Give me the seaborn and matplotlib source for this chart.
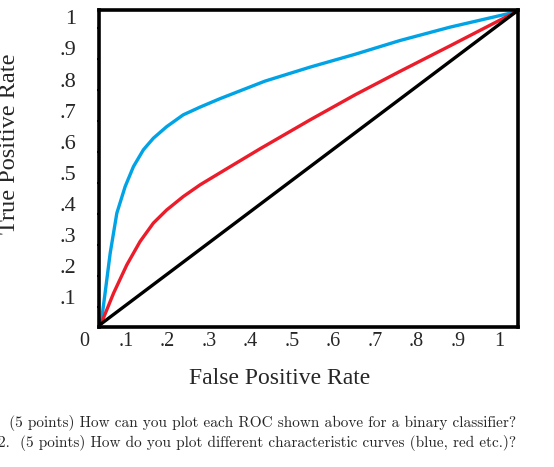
import matplotlib
matplotlib.use("Agg")
from matplotlib import pyplot as plt
import seaborn as sns
import pandas as pd

# ROC curves (false positive rate, true positive rate)
blue_fpr = [0, 0.0096, 0.022, 0.038, 0.058, 0.078, 0.102, 0.126, 0.158, 0.198,
            0.239, 0.287, 0.395, 0.504, 0.612, 0.72, 0.841, 1]
blue_tpr = [0, 0.098, 0.227, 0.355, 0.44, 0.504, 0.558, 0.595, 0.632, 0.67,
            0.695, 0.722, 0.778, 0.823, 0.864, 0.908, 0.951, 1]
red_fpr = [0, 0.03, 0.062, 0.094, 0.126, 0.158, 0.198, 0.239, 0.279, 0.319,
           0.383, 0.504, 0.612, 0.72, 0.841, 1]
red_tpr = [0, 0.098, 0.189, 0.264, 0.323, 0.365, 0.408, 0.446, 0.478, 0.51,
           0.561, 0.654, 0.734, 0.809, 0.891, 1]
black_fpr = [0, 1]
black_tpr = [0, 1]

x_ticklabels = ["0", ".1", ".2", ".3", ".4", ".5", ".6", ".7", ".8", ".9", "1"]
y_ticklabels = [".1", ".2", ".3", ".4", ".5", ".6", ".7", ".8", ".9", "1"]

questions = [
    "1.  (5 points) How can you plot each ROC shown above for a binary classifier?",
    "2.  (5 points) How do you plot different characteristic curves (blue, red etc.)?",
]

df = pd.concat([
    pd.DataFrame({"fpr": blue_fpr, "tpr": blue_tpr, "curve": "blue"}),
    pd.DataFrame({"fpr": red_fpr, "tpr": red_tpr, "curve": "red"}),
    pd.DataFrame({"fpr": black_fpr, "tpr": black_tpr, "curve": "black"}),
], ignore_index=True)

sns.set_style("white")
plt.rcParams["font.family"] = ["Liberation Serif", "DejaVu Serif"]
plt.rcParams["lines.solid_joinstyle"] = "round"

fig = plt.figure(figsize=(5.54, 4.67), dpi=100)
ax = fig.add_axes([99 / 554, 1 - 327 / 467, 419 / 554, 317 / 467])

sns.lineplot(data=df, x="fpr", y="tpr", hue="curve", sort=False, estimator=None,
             palette={"blue": "#00a3e6", "red": "#ec1c2a", "black": "black"},
             hue_order=["blue", "red", "black"], linewidth=2.4, legend=False, ax=ax)

ax.set_xlim(-0.005, 1.005)
ax.set_ylim(-0.01, 1.006)
for s in ax.spines.values():
    s.set_visible(True)
    s.set_color("black")
    s.set_linewidth(2.6)

ax.set_xticks([])
ax.set_yticks([0.054 + k * 0.0993 for k in range(10)])
ax.set_yticklabels([])
ax.tick_params(axis="y", direction="out", length=1.5, width=1.5, color="black", left=True)
ax.set_xlabel("")
ax.set_ylabel("")

# tick labels sit off the data grid in the original, so place them as text
for i, lab in enumerate(x_ticklabels):
    ax.text(-0.04 + i * 0.1, -0.047, lab, transform=ax.get_xaxis_transform(),
            ha="center", va="center", fontsize=14.5, clip_on=False)
for k, lab in enumerate(y_ticklabels):
    ax.text(-0.055, 0.077 + k * 0.0997, lab, transform=ax.get_yaxis_transform(),
            ha="right", va="center", fontsize=16, clip_on=False)

fig.text(280 / 554, 1 - 378 / 467, "False Positive Rate", ha="center", va="center",
         fontsize=17)
fig.text(10 / 554, 1 - 144 / 467, "True Positive Rate", ha="center", va="center",
         rotation=90, fontsize=17.5)

for j, q in enumerate(questions):
    fig.text(516 / 554, 1 - (423 + j * 20) / 467, q, ha="right", va="center",
             fontsize=11, family=["cmr10", "DejaVu Serif"])

fig.savefig("out.png", dpi=100)
